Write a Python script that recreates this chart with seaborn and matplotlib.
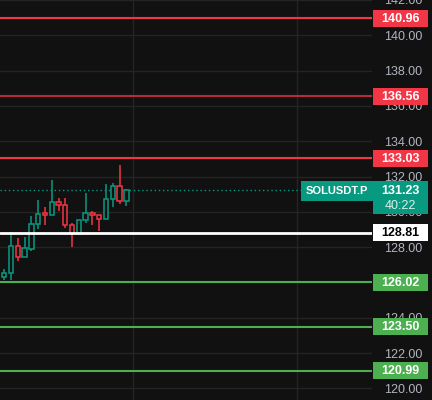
import matplotlib
matplotlib.use("Agg")
import matplotlib.pyplot as plt
import matplotlib.transforms as mtransforms
from matplotlib.patches import Rectangle
import seaborn as sns
import pandas as pd

# SOLUSDT.P candles (open, high, low, close)
opens  = [126.30, 126.53, 128.08, 127.44, 127.89, 129.32, 129.92, 129.81, 130.56, 130.41,
          129.27, 128.76, 129.53, 129.94, 129.83, 129.58, 130.73, 131.47, 130.62]
highs  = [126.74, 128.83, 128.53, 128.55, 129.79, 130.69, 130.30, 131.82, 130.81, 130.81,
          129.38, 129.55, 131.09, 130.07, 129.83, 131.59, 131.66, 132.67, 131.28]
lows   = [126.12, 126.12, 127.19, 127.44, 127.77, 129.02, 129.23, 129.81, 130.07, 129.06,
          127.98, 128.76, 129.34, 129.28, 128.90, 129.58, 130.26, 130.43, 130.32]
closes = [126.55, 128.08, 127.44, 127.93, 129.32, 129.89, 129.81, 130.56, 130.37, 129.24,
          128.76, 129.55, 129.94, 129.83, 129.58, 130.73, 131.47, 130.62, 131.23]

resistance_levels = [140.96, 136.56, 133.03]
pivot_level = 128.81
support_levels = [126.02, 123.50, 120.99]
last_price = 131.23
countdown = "40:22"
symbol = "SOLUSDT.P"
price_ticks = [120, 122, 124, 126, 128, 130, 132, 134, 136, 138, 140, 142]

BG = "#111111"
GRID = "#242424"
UP = "#089981"
DOWN = "#F23645"
SUPPORT = "#4CAF50"
TEXT = "#B2B5BE"

sns.set_theme(style="dark", rc={"axes.facecolor": BG, "figure.facecolor": BG})
plt.rcParams["font.family"] = ["Liberation Sans", "DejaVu Sans"]

df = pd.DataFrame({"open": opens, "high": highs, "low": lows, "close": closes})
df["idx"] = range(len(df))
df["color"] = [UP if c >= o else DOWN for o, c in zip(df["open"], df["close"])]

fig = plt.figure(figsize=(4.32, 4.0), dpi=100)
ax = fig.add_axes([0, 0, 372 / 432, 1])
ax.set_facecolor(BG)

ax.set_xlim(-0.634, 54.23)
ax.set_ylim(119.34, 141.94)

# grid
for p in price_ticks:
    ax.axhline(p, color=GRID, lw=1, zorder=0)
for gx in [18.98, 43.17]:
    ax.axvline(gx, color=GRID, lw=1, zorder=0)

# hollow candles: wick first, then body outline over it
bw = 0.64
for _, r in df.iterrows():
    ax.vlines(r["idx"], r["low"], r["high"], color=r["color"], lw=1.1, zorder=3)
    lo, hi = min(r["open"], r["close"]), max(r["open"], r["close"])
    ax.add_patch(Rectangle((r["idx"] - bw / 2, lo), bw, max(hi - lo, 0.05),
                           facecolor=BG, edgecolor=r["color"], lw=1.1, zorder=4))

# last-price dotted line up to the symbol tag
trans_px = mtransforms.blended_transform_factory(fig.transFigure, ax.transData)
sns.lineplot(x=[0, 301 / 432], y=[last_price, last_price], ax=ax, color=UP,
             lw=1.0, linestyle=(0, (1, 2)), transform=trans_px, zorder=2)

# horizontal levels
res_colors = [DOWN, "#B82A37", DOWN]
for lvl, c in zip(resistance_levels, res_colors):
    ax.axhline(lvl, color=c, lw=1.5, zorder=5)
ax.axhline(pivot_level, color="white", lw=2.0, zorder=5)
for lvl in support_levels:
    ax.axhline(lvl, color=SUPPORT, lw=1.5, zorder=5)

# price scale
ax.yaxis.tick_right()
ax.set_yticks(price_ticks)
ax.set_yticklabels([f"{p:.2f}" for p in price_ticks])
ax.tick_params(axis="y", length=0, pad=8.5, labelsize=9, colors=TEXT)
ax.tick_params(axis="x", length=0, labelbottom=False)
ax.set_xlabel("")
ax.set_ylabel("")
for s in ax.spines.values():
    s.set_visible(False)

box_x0, box_x1 = 373 / 432, 428 / 432
box_h = 0.96


def price_tag(level, face, txt_color):
    ax.add_patch(Rectangle((box_x0, level - box_h / 2), box_x1 - box_x0, box_h,
                           transform=trans_px, facecolor=face, edgecolor="none",
                           clip_on=False, zorder=10))
    ax.text((box_x0 + box_x1) / 2, level - 0.03, f"{level:.2f}", transform=trans_px,
            ha="center", va="center", fontsize=9, color=txt_color,
            fontweight="bold", clip_on=False, zorder=11)


for lvl in resistance_levels:
    price_tag(lvl, DOWN, "white")
price_tag(pivot_level, "white", "black")
for lvl in support_levels:
    price_tag(lvl, SUPPORT, "white")

# current price tag with countdown
ax.add_patch(Rectangle((box_x0, 129.85), box_x1 - box_x0, 131.77 - 129.85,
                       transform=trans_px, facecolor=UP, edgecolor="none",
                       clip_on=False, zorder=10))
ax.text((box_x0 + box_x1) / 2, 131.20, f"{last_price:.2f}", transform=trans_px,
        ha="center", va="center", fontsize=9, color="white", fontweight="bold",
        clip_on=False, zorder=11)
ax.text((box_x0 + box_x1) / 2, 130.34, countdown, transform=trans_px,
        ha="center", va="center", fontsize=9, color="#DDEFEA",
        clip_on=False, zorder=11)

# symbol tag
ax.add_patch(Rectangle((301 / 432, 130.64), 71.7 / 432, 131.77 - 130.64,
                       transform=trans_px, facecolor=UP, edgecolor="none",
                       clip_on=False, zorder=10))
ax.text(337.2 / 432, 131.19, symbol, transform=trans_px, ha="center", va="center",
        fontsize=8, color="white", fontweight="bold", clip_on=False, zorder=11)

fig.savefig("out.png", dpi=100, facecolor=BG)
